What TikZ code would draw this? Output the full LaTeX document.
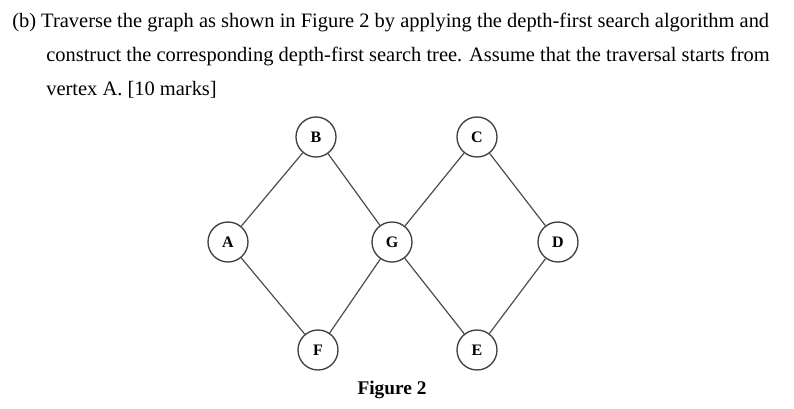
\documentclass[tikz,border=0pt]{standalone}
\usepackage{fontspec}
\setmainfont{Liberation Serif}
\begin{document}
\begin{tikzpicture}[x=0.75pt,y=-0.75pt,
  vert/.style={circle,draw=black!75,line width=1pt,minimum size=30pt,inner sep=0pt,font=\fontsize{12}{14}\selectfont\bfseries,fill=white},
  edge/.style={draw=black!70,line width=0.9pt},
  txt/.style={anchor=base west,inner sep=0pt,font=\fontsize{15.35}{18}\selectfont}]
\useasboundingbox (0,0) rectangle (794,408);
\node[txt] (l1) at (12,27) {(b) Traverse the graph as shown in Figure 2 by applying the depth-first search algorithm and};
\node[txt] (l2) at (46,61) {construct the corresponding depth-first search tree. Assume that the traversal starts from};
\node[txt] (l3) at (46,95) {vertex A. [10 marks]};
\node[vert] (B) at (316,137) {B};
\node[vert] (C) at (477,137) {C};
\node[vert] (A) at (228,242) {A};
\node[vert] (G) at (392,242) {G};
\node[vert] (D) at (558,242) {D};
\node[vert] (F) at (318,350) {F};
\node[vert] (E) at (477,350) {E};
\draw[edge] (A)--(B) (B)--(G) (G)--(C) (C)--(D) (A)--(F) (F)--(G) (G)--(E) (E)--(D);
\node[font=\fontsize{14.5}{16}\selectfont\bfseries] (cap) at (392,390) {Figure 2};
\end{tikzpicture}
\end{document}
